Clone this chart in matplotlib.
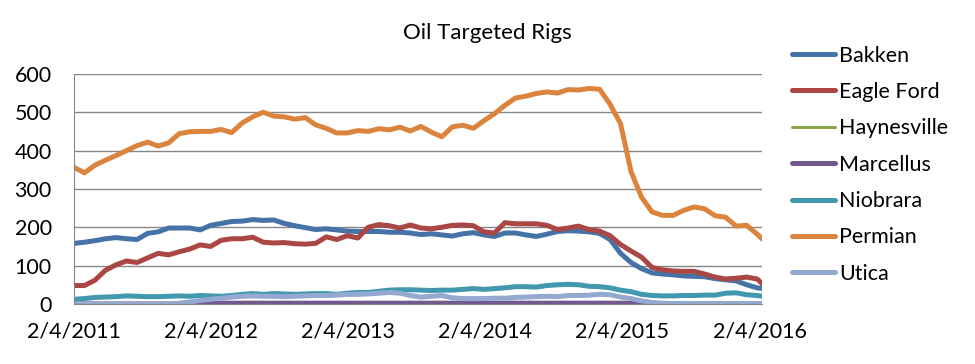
import pandas as pd
import matplotlib
matplotlib.use("Agg")
import matplotlib.pyplot as plt

plt.rcParams['font.family'] = ['Lato', 'DejaVu Sans']

dates = list(pd.date_range('2011-02-04', periods=66, freq='28D')) + [pd.Timestamp('2016-02-12')]

bakken = [158, 161, 165, 170, 173, 170, 168, 184, 188, 198, 198, 198, 193, 205, 210, 215,
          216, 220, 218, 219, 210, 204, 199, 194, 196, 193, 190, 189, 189, 189, 187, 187,
          185, 181, 183, 180, 177, 183, 186, 180, 176, 185, 185, 180, 176, 182, 189, 191,
          190, 188, 184, 168, 132, 108, 92, 81, 78, 76, 73, 72, 71, 66, 63, 60, 50, 42, 40]
eagle_ford = [48, 48, 62, 88, 102, 112, 108, 120, 132, 128, 136, 143, 154, 150, 166, 170,
              170, 174, 161, 159, 160, 157, 156, 158, 175, 168, 178, 172, 200, 207, 204, 198,
              206, 198, 196, 200, 205, 206, 204, 188, 185, 212, 209, 209, 209, 205, 194, 198,
              203, 194, 190, 178, 155, 138, 122, 95, 89, 86, 85, 85, 78, 70, 65, 67, 70, 65, 52]
haynesville = [0] * 67
marcellus = [0] * 13 + [2] * 42 + [0] * 12
niobrara = [12, 14, 17, 18, 19, 21, 20, 19, 19, 20, 21, 20, 22, 21, 20, 22,
            25, 27, 25, 27, 26, 25, 26, 27, 27, 25, 28, 30, 30, 33, 36, 37,
            37, 36, 35, 36, 36, 38, 40, 38, 40, 42, 45, 45, 44, 48, 50, 51,
            50, 46, 45, 42, 36, 32, 25, 22, 21, 21, 22, 22, 23, 23, 28, 29, 24, 22, 20]
permian = [356, 342, 362, 375, 387, 400, 413, 422, 412, 420, 444, 449, 450, 450, 455, 447,
           472, 488, 500, 490, 488, 482, 486, 467, 458, 446, 446, 452, 450, 457, 454, 461,
           451, 463, 448, 436, 462, 466, 458, 478, 496, 518, 537, 542, 549, 553, 550, 559,
           558, 562, 560, 521, 470, 345, 278, 240, 231, 231, 244, 253, 248, 230, 226, 203, 205, 182, 169]
utica = [0, 0, 0, 0, 0, 0, 0, 0, 0, 0, 2, 5, 9, 12, 15, 18,
         20, 21, 20, 20, 19, 20, 21, 22, 22, 23, 25, 25, 26, 28, 30, 28,
         22, 18, 20, 22, 16, 14, 14, 14, 15, 15, 17, 18, 19, 20, 19, 22,
         22, 23, 25, 24, 18, 14, 8, 4, 2, 1, 1, 1, 1, 1, 1, 1, 1, 1, 1]

names = ['Bakken', 'Eagle Ford', 'Haynesville', 'Marcellus', 'Niobrara', 'Permian', 'Utica']
series = [bakken, eagle_ford, haynesville, marcellus, niobrara, permian, utica]
colors = ['#4572A7', '#AA4643', '#89A54E', '#71588F', '#4198AF', '#DB843D', '#93A9CF']
tick_dates = pd.to_datetime(['2011-02-04', '2012-02-04', '2013-02-04',
                             '2014-02-04', '2015-02-04', '2016-02-04'])

fig = plt.figure(figsize=(9.75, 3.64), dpi=100)
ax = fig.add_axes([0.0759, 0.165, 0.7061, 0.632])

for name, vals, c in zip(names, series, colors):
    lw = 2.2 if name == 'Haynesville' else 3.6
    ax.plot(dates, vals, color=c, lw=lw, label=name, solid_capstyle='round')

ax.set_ylim(0, 600)
ax.set_yticks(range(0, 601, 100))
ax.set_xlim(dates[0], dates[-1])
ax.set_xticks(tick_dates)
ax.set_xticklabels([f'{d.month}/{d.day}/{d.year}' for d in tick_dates])

ax.grid(axis='y', color='#868686', lw=1)
ax.set_axisbelow(True)
for s in ['top', 'right']:
    ax.spines[s].set_visible(False)
ax.spines['left'].set_color('#868686')
ax.spines['bottom'].set_color('#868686')
ax.tick_params(length=0, labelsize=15.5)
ax.tick_params(axis='y', pad=16)
ax.tick_params(axis='x', pad=13)

fig.text(487 / 975, 1 - 33 / 364, 'Oil Targeted Rigs', ha='center', va='center', fontsize=16)

fig.legend(loc='upper left', bbox_to_anchor=(783 / 975, 1 - 37 / 364), frameon=False,
           fontsize=15.5, handlelength=2.0, handletextpad=0.2, labelspacing=0.76,
           borderaxespad=0)

fig.savefig('out.png', dpi=100)
